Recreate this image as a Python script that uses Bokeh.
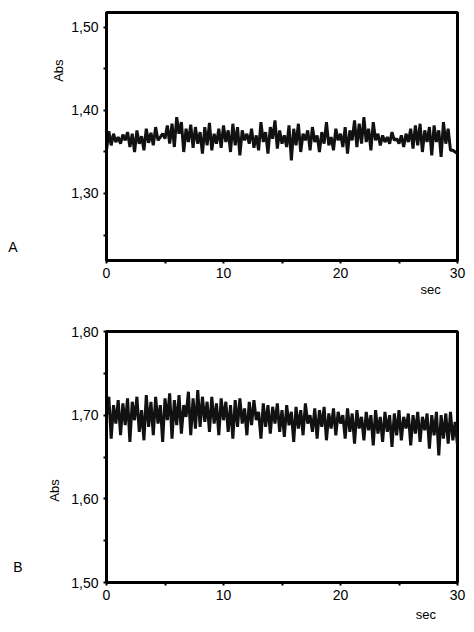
from bokeh.plotting import figure
from bokeh.layouts import column
from bokeh.models import FixedTicker, CustomJSTickFormatter, LinearAxis, Range1d
from bokeh.embed import file_html
from bokeh.resources import INLINE

# time axis (seconds), 0.2 s sampling
t = [round(i * 0.2, 1) for i in range(151)]

abs_a = [
    1.352, 1.375, 1.358, 1.372, 1.362, 1.368, 1.360, 1.371, 1.364, 1.374,
    1.356, 1.372, 1.350, 1.376, 1.360, 1.369, 1.352, 1.378, 1.361, 1.373,
    1.358, 1.380, 1.364, 1.368, 1.372, 1.366, 1.382, 1.360, 1.384, 1.356,
    1.392, 1.372, 1.386, 1.350, 1.378, 1.362, 1.383, 1.355, 1.380, 1.360,
    1.374, 1.348, 1.380, 1.358, 1.385, 1.352, 1.372, 1.360, 1.378, 1.355,
    1.382, 1.362, 1.376, 1.350, 1.384, 1.358, 1.380, 1.346, 1.376, 1.364,
    1.372, 1.360, 1.378, 1.355, 1.370, 1.352, 1.386, 1.362, 1.374, 1.348,
    1.380, 1.366, 1.388, 1.354, 1.376, 1.360, 1.370, 1.356, 1.382, 1.340,
    1.378, 1.358, 1.384, 1.350, 1.372, 1.364, 1.376, 1.352, 1.380, 1.362,
    1.370, 1.350, 1.374, 1.360, 1.386, 1.358, 1.368, 1.352, 1.378, 1.364,
    1.372, 1.356, 1.380, 1.348, 1.376, 1.364, 1.388, 1.356, 1.384, 1.360,
    1.392, 1.362, 1.378, 1.352, 1.386, 1.364, 1.372, 1.358, 1.370, 1.362,
    1.368, 1.360, 1.374, 1.364, 1.366, 1.360, 1.370, 1.356, 1.372, 1.362,
    1.378, 1.354, 1.382, 1.358, 1.384, 1.350, 1.376, 1.362, 1.380, 1.346,
    1.382, 1.362, 1.376, 1.344, 1.386, 1.360, 1.378, 1.352, 1.352, 1.350, 1.348,
]

abs_b = [
    1.700, 1.722, 1.672, 1.712, 1.690, 1.718, 1.676, 1.714, 1.688, 1.720,
    1.668, 1.716, 1.694, 1.722, 1.680, 1.706, 1.670, 1.724, 1.686, 1.716,
    1.676, 1.722, 1.690, 1.712, 1.668, 1.720, 1.694, 1.726, 1.672, 1.718,
    1.688, 1.724, 1.678, 1.712, 1.698, 1.728, 1.676, 1.720, 1.684, 1.730,
    1.686, 1.722, 1.692, 1.716, 1.680, 1.722, 1.690, 1.714, 1.676, 1.720,
    1.694, 1.716, 1.680, 1.712, 1.672, 1.718, 1.686, 1.720, 1.690, 1.708,
    1.676, 1.716, 1.688, 1.718, 1.694, 1.704, 1.672, 1.714, 1.686, 1.712,
    1.678, 1.710, 1.690, 1.714, 1.680, 1.706, 1.674, 1.712, 1.688, 1.704,
    1.668, 1.710, 1.684, 1.706, 1.676, 1.714, 1.690, 1.700, 1.680, 1.708,
    1.672, 1.706, 1.686, 1.710, 1.670, 1.702, 1.684, 1.708, 1.676, 1.704,
    1.690, 1.700, 1.672, 1.708, 1.680, 1.702, 1.666, 1.706, 1.684, 1.698,
    1.670, 1.704, 1.682, 1.700, 1.664, 1.706, 1.678, 1.698, 1.668, 1.704,
    1.680, 1.700, 1.662, 1.702, 1.676, 1.706, 1.670, 1.698, 1.684, 1.702,
    1.664, 1.700, 1.678, 1.704, 1.668, 1.698, 1.682, 1.702, 1.660, 1.700,
    1.676, 1.704, 1.652, 1.700, 1.672, 1.702, 1.666, 1.704, 1.670, 1.692, 1.664,
]

x_major = [0, 10, 20, 30]
x_minor = [5, 15, 25]
ya_major = [1.30, 1.40, 1.50]
ya_minor = [1.25, 1.35, 1.45]
yb_major = [1.50, 1.60, 1.70, 1.80]
yb_minor = [1.55, 1.65, 1.75]

FONT = "Liberation Sans"


def text_axis(text, at, size, standoff, orientation="horizontal"):
    """An axis without line or ticks whose single tick label carries a text."""
    ax = LinearAxis(ticker=FixedTicker(ticks=[at], minor_ticks=[]),
                    formatter=CustomJSTickFormatter(code="return '%s';" % text))
    ax.axis_line_color = None
    ax.major_tick_line_color = None
    ax.minor_tick_line_color = None
    ax.major_tick_out = 0
    ax.major_tick_in = 0
    ax.major_label_standoff = standoff
    ax.major_label_orientation = orientation
    ax.major_label_text_font = FONT
    ax.major_label_text_font_size = size
    ax.major_label_text_color = "black"
    return ax


def make_panel(y, yrange, ymaj, ymin, height, bt, bb, letter, abs_y, abs_so, letter_y, letter_so, sec_x, sec_so):
    p = figure(width=468, height=height, output_backend="svg", toolbar_location=None,
               x_range=Range1d(0, 30), y_range=Range1d(*yrange),
               min_border_left=106, min_border_right=11, min_border_top=bt, min_border_bottom=bb)
    p.grid.visible = False
    p.outline_line_color = "black"
    p.outline_line_width = 3
    p.background_fill_color = "white"
    p.border_fill_color = "white"
    p.line(t, y, line_color="#111111", line_width=3, line_join="bevel")

    p.xaxis.ticker = FixedTicker(ticks=x_major, minor_ticks=x_minor)
    p.yaxis.ticker = FixedTicker(ticks=ymaj, minor_ticks=ymin)
    p.yaxis.formatter = CustomJSTickFormatter(code="return tick.toFixed(2).replace('.', ',');")
    for ax in (p.xaxis, p.yaxis):
        ax.axis_line_width = 3
        ax.axis_line_color = "black"
        ax.major_tick_line_width = 2
        ax.minor_tick_line_width = 2
        ax.major_tick_out = 3
        ax.major_tick_in = 0
        ax.minor_tick_out = 3
        ax.minor_tick_in = 0
        ax.major_label_text_font = FONT
        ax.major_label_text_font_size = "14px"
        ax.major_label_text_color = "black"
    p.yaxis.major_label_standoff = 5
    p.xaxis.major_label_standoff = 4

    p.add_layout(text_axis("Abs", abs_y, "13px", abs_so, "vertical"), "left")
    p.add_layout(text_axis(letter, letter_y, "14px", letter_so), "left")
    p.add_layout(text_axis("sec", sec_x, "13px", sec_so), "below")
    return p


p1 = make_panel(abs_a, (1.2193, 1.518), ya_major, ya_minor, 318, 12, 58, "A",
                1.448, 2, 1.235, 31, 27.7, 1)
p2 = make_panel(abs_b, (1.50, 1.80), yb_major, yb_minor, 310, 13, 46, "B",
                1.61, 6, 1.518, 22, 27.3, 4)

layout = column(p1, p2, spacing=0)
open("out.html", "w").write(file_html(layout, INLINE))
